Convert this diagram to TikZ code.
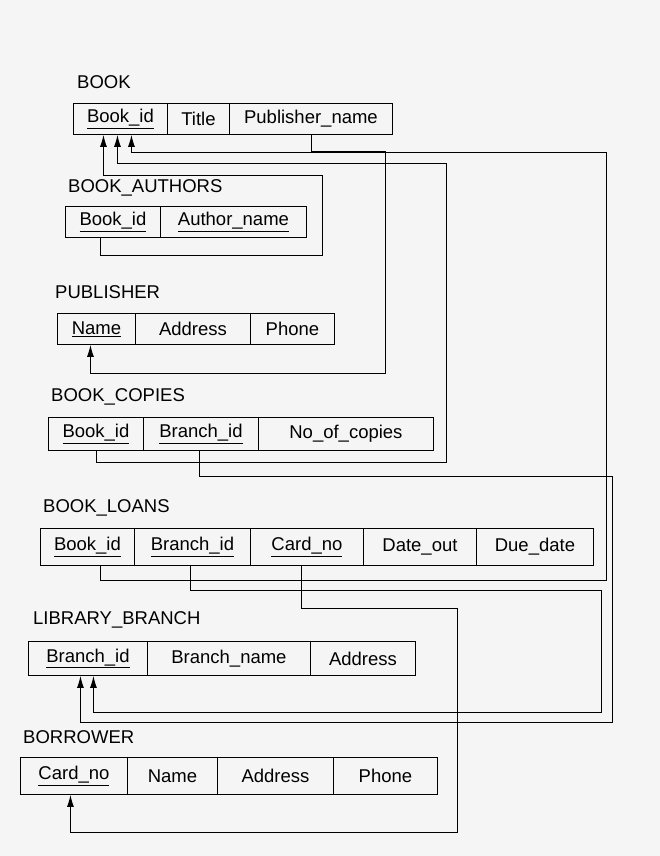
\documentclass[tikz,border=0pt]{standalone}
\usepackage{fontspec}
\setmainfont{Liberation Sans}
\usetikzlibrary{arrows.meta}
\begin{document}
\begin{tikzpicture}[x=1pt,y=-1pt,
  cell/.style={draw,line width=0.9pt,inner sep=0pt,minimum height=#1,anchor=north west,font=\fontsize{18.5}{21}\selectfont},
  cell/.default=31pt,
  lbl/.style={anchor=west,inner sep=0pt,font=\fontsize{18.5}{21}\selectfont},
  fk/.style={line width=0.9pt,-{Latex[length=12pt,width=7pt]}}]
\fill[black!4] (0,0) rectangle (660,856);
\useasboundingbox (0,0) rectangle (660,856);
% BOOK
\node[lbl] (lbook) at (77,82) {BOOK};
\node[cell,minimum width=94pt] (b1) at (73,103) {\underline{Book\_id}};
\node[cell,minimum width=62pt] (b2) at (167,103) {Title};
\node[cell,minimum width=163pt] (b3) at (229,103) {Publisher\_name};
% BOOK_AUTHORS
\node[lbl] (lba) at (68,188) {BOOK\_AUTHORS};
\node[cell,minimum width=95pt] (ba1) at (65,206) {\underline{Book\_id}};
\node[cell,minimum width=146pt] (ba2) at (160,206) {\underline{Author\_name}};
% PUBLISHER
\node[lbl] (lp) at (55,292) {PUBLISHER};
\node[cell,minimum width=78pt] (p1) at (57,313) {\underline{Name}};
\node[cell,minimum width=115pt] (p2) at (135,313) {Address};
\node[cell,minimum width=84pt] (p3) at (250,313) {Phone};
% BOOK_COPIES
\node[lbl] (lbc) at (51,397) {BOOK\_COPIES};
\node[cell=33pt,minimum width=95pt] (bc1) at (48,417) {\underline{Book\_id}};
\node[cell=33pt,minimum width=115pt] (bc2) at (143,417) {\underline{Branch\_id}};
\node[cell=33pt,minimum width=175pt] (bc3) at (258,417) {No\_of\_copies};
% BOOK_LOANS
\node[lbl] (lbl) at (43,508) {BOOK\_LOANS};
\node[cell=37pt,minimum width=94pt] (bl1) at (40,528) {\underline{Book\_id}};
\node[cell=37pt,minimum width=116pt] (bl2) at (134,528) {\underline{Branch\_id}};
\node[cell=37pt,minimum width=113pt] (bl3) at (250,528) {\underline{Card\_no}};
\node[cell=37pt,minimum width=113pt] (bl4) at (363,528) {Date\_out};
\node[cell=37pt,minimum width=117pt] (bl5) at (476,528) {Due\_date};
% LIBRARY_BRANCH
\node[lbl] (llb) at (33,620) {LIBRARY\_BRANCH};
\node[cell=34pt,minimum width=119pt] (lb1) at (28,641) {\underline{Branch\_id}};
\node[cell=34pt,minimum width=163pt] (lb2) at (147,641) {Branch\_name};
\node[cell=34pt,minimum width=105pt] (lb3) at (310,641) {Address};
% BORROWER
\node[lbl] (lw) at (23,737) {BORROWER};
\node[cell=37pt,minimum width=107pt] (w1) at (20,757) {\underline{Card\_no}};
\node[cell=37pt,minimum width=90pt] (w2) at (127,757) {Name};
\node[cell=37pt,minimum width=116pt] (w3) at (217,757) {Address};
\node[cell=37pt,minimum width=104pt] (w4) at (333,757) {Phone};
% connectors
\draw[fk] ([xshift=-12.5pt]ba1.south) -- ++(0,18) -| (322,175) -| ([xshift=-17pt]b1.south);
\draw[fk] (b3.south) -- ++(0,17) -| (385,373) -| ([xshift=-6pt]p1.south);
\draw[fk] (bc1.south) -- ++(0,12) -| (446,163) -| ([xshift=-3pt]b1.south);
\draw[fk] ([xshift=-2pt]bc2.south) -- ++(0,26) -| (612,722) -| ([xshift=-7.5pt]lb1.south);
\draw[fk] ([xshift=13pt]bl1.south) -- ++(0,15) -| (606,152) -| ([xshift=11pt]b1.south);
\draw[fk] ([xshift=-2pt]bl2.south) -- ++(0,25) -| (601,712) -| ([xshift=5.5pt]lb1.south);
\draw[fk] ([xshift=-6pt]bl3.south) -- ++(0,43) -| (457,832) -| ([xshift=-3.5pt]w1.south);
\end{tikzpicture}
\end{document}
